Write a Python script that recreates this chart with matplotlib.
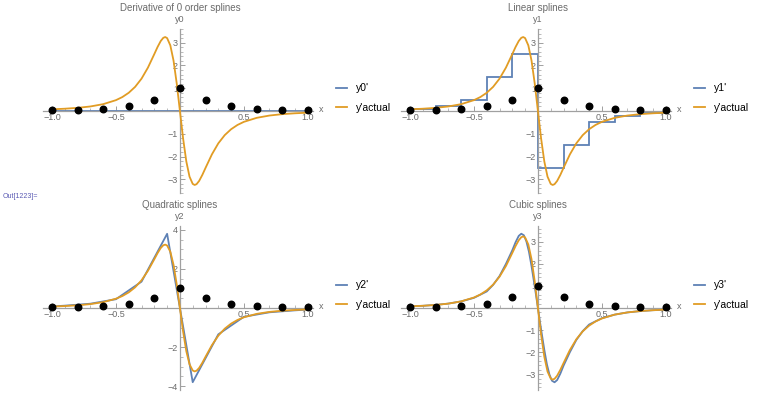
import matplotlib
matplotlib.use("Agg")
import matplotlib.pyplot as plt
from matplotlib.ticker import MultipleLocator, FixedLocator
from matplotlib.lines import Line2D
import numpy as np

plt.rcParams['font.family'] = ['Liberation Sans', 'DejaVu Sans']

# ---- data ----
node_x = [-1.0, -0.8, -0.6, -0.4, -0.2, 0.0, 0.2, 0.4, 0.6, 0.8, 1.0]
node_y = [0.0385, 0.0588, 0.1, 0.2, 0.5, 1.0, 0.5, 0.2, 0.1, 0.0588, 0.0385]

actual_x = [-1.0, -0.9, -0.8, -0.7, -0.6, -0.5, -0.45, -0.4, -0.35, -0.3, -0.25, -0.2,
            -0.175, -0.15, -0.13, -0.115, -0.1, -0.075, -0.05, -0.025, 0.0,
            0.025, 0.05, 0.075, 0.1, 0.115, 0.13, 0.15, 0.175, 0.2, 0.25, 0.3,
            0.35, 0.4, 0.45, 0.5, 0.6, 0.7, 0.8, 0.9, 1.0]
actual_y = [0.074, 0.100, 0.138, 0.199, 0.300, 0.476, 0.612, 0.800, 1.060, 1.420, 1.904, 2.500,
            2.807, 3.072, 3.212, 3.248, 3.200, 2.882, 2.215, 1.212, 0.0,
            -1.212, -2.215, -2.882, -3.200, -3.248, -3.212, -3.072, -2.807, -2.500, -1.904, -1.420,
            -1.060, -0.800, -0.612, -0.476, -0.300, -0.199, -0.138, -0.100, -0.074]

# 0 order splines: derivative zero everywhere
y0_x = [-1.0, 1.0]
y0_y = [0.0, 0.0]

# linear splines: piecewise-constant slopes between nodes
y1_edges = [-1.0, -0.8, -0.6, -0.4, -0.2, 0.0, 0.2, 0.4, 0.6, 0.8, 1.0]
y1_vals = [0.102, 0.206, 0.5, 1.5, 2.5, -2.5, -1.5, -0.5, -0.206, -0.102]

# quadratic splines: piecewise-linear derivative
y2_x = [-1.0, -0.9, -0.7, -0.5, -0.3, -0.1, 0.1, 0.3, 0.5, 0.7, 0.9, 1.0]
y2_y = [0.08, 0.12, 0.22, 0.45, 1.35, 3.8, -3.8, -1.35, -0.45, -0.22, -0.12, -0.08]

# cubic splines
y3_x = [-1.0, -0.9, -0.8, -0.7, -0.6, -0.5, -0.4, -0.35, -0.3, -0.25, -0.2, -0.175,
        -0.15, -0.13, -0.11, -0.09, -0.07, -0.05, -0.025, 0.0,
        0.025, 0.05, 0.07, 0.09, 0.11, 0.13, 0.15, 0.175, 0.2, 0.25, 0.3, 0.35,
        0.4, 0.5, 0.6, 0.7, 0.8, 0.9, 1.0]
y3_y = [0.08, 0.10, 0.14, 0.20, 0.30, 0.46, 0.75, 1.05, 1.45, 2.00, 2.62, 2.98,
        3.27, 3.37, 3.30, 3.02, 2.55, 1.90, 0.98, 0.0,
        -0.98, -1.90, -2.55, -3.02, -3.30, -3.37, -3.27, -2.98, -2.62, -2.00, -1.45, -1.05,
        -0.75, -0.46, -0.30, -0.20, -0.14, -0.10, -0.08]

titles = ["Derivative of 0 order splines", "Linear splines", "Quadratic splines", "Cubic splines"]
ylabels = ["y0", "y1", "y2", "y3"]
leg_labels = ["y0'", "y1'", "y2'", "y3'"]

BLUE = "#5E81B5"
ORANGE = "#E19C24"
AXC = "#a0a0a0"
TXT = "#6b6b6b"

W, H = 768, 396
fig = plt.figure(figsize=(W / 100, H / 100), dpi=100)

# axes boxes in pixels: (left, right, top, bottom), ylim, major, minor
boxes = [
    (43, 313, 29, 193, 3.6, 1, 0.2),
    (401, 671, 29, 193, 3.6, 1, 0.2),
    (43, 313, 226, 390, 4.2, 2, 0.5),
    (401, 671, 226, 390, 3.72, 1, 0.2),
]
legend_pos = [(336, 98), (694, 98), (336, 295), (694, 295)]

for i, (l, r, t, b, ylim, ymaj, ymin) in enumerate(boxes):
    ax = fig.add_axes([l / W, 1 - b / H, (r - l) / W, (b - t) / H])
    ax.set_xlim(-1.07, 1.04)
    ax.set_ylim(-ylim, ylim)
    ax.patch.set_alpha(0)
    for s in ['top', 'right']:
        ax.spines[s].set_visible(False)
    for s in ['left', 'bottom']:
        ax.spines[s].set_position(('data', 0))
        ax.spines[s].set_color(AXC)
        ax.spines[s].set_linewidth(0.9)
    ax.xaxis.set_major_locator(FixedLocator([-1.0, -0.5, 0.5, 1.0]))
    ax.xaxis.set_minor_locator(MultipleLocator(0.1))
    yt = [v for v in np.arange(-int(ylim / ymaj) * ymaj, ylim + 1e-9, ymaj) if abs(v) > 1e-9]
    ax.yaxis.set_major_locator(FixedLocator(yt))
    ax.yaxis.set_minor_locator(MultipleLocator(ymin))
    ax.set_xticklabels(["\u22121.0", "\u22120.5", "0.5", "1.0"])
    ax.set_yticklabels([("\u2212%d" % abs(v)) if v < 0 else "%d" % v for v in yt])
    ax.tick_params(which='both', direction='in', colors=AXC, labelcolor=TXT,
                   labelsize=6.5, pad=1.5)
    ax.tick_params(which='major', length=3.5, width=0.7)
    ax.tick_params(which='minor', length=2, width=0.5)

    if i == 0:
        ax.plot(y0_x, y0_y, color=BLUE, lw=1.3, zorder=2)
    elif i == 1:
        ax.stairs(y1_vals, y1_edges, color=BLUE, lw=1.3, baseline=None, zorder=2)
    elif i == 2:
        ax.plot(y2_x, y2_y, color=BLUE, lw=1.3, zorder=2)
    else:
        ax.plot(y3_x, y3_y, color=BLUE, lw=1.3, zorder=2)
    ax.plot(actual_x, actual_y, color=ORANGE, lw=1.3, zorder=3)
    ax.plot(node_x, node_y, 'o', color='black', ms=4.7, zorder=4, clip_on=False)

    # titles and axis labels
    ax.annotate(titles[i], xy=(0, 1), xycoords=('data', 'axes fraction'),
                xytext=(0, 15), textcoords='offset points', ha='center', va='center',
                fontsize=7, color=TXT)
    ax.annotate(ylabels[i], xy=(0, 1), xycoords=('data', 'axes fraction'),
                xytext=(0, 7), textcoords='offset points', ha='center', va='center',
                fontsize=6.5, color=TXT)
    ax.annotate("x", xy=(1, 0), xycoords=('axes fraction', 'data'),
                xytext=(4, 1), textcoords='offset points', ha='left', va='center',
                fontsize=6.5, color=TXT)

    lx, ly = legend_pos[i]
    hb = Line2D([], [], color=BLUE, lw=1.3)
    ho = Line2D([], [], color=ORANGE, lw=1.3)
    ax.legend([hb, ho], [leg_labels[i], "y'actual"], loc='center left',
              bbox_to_anchor=(lx / W, 1 - ly / H), bbox_transform=fig.transFigure,
              frameon=False, fontsize=7.5, handlelength=1.05, handletextpad=0.85,
              labelspacing=0.92, borderaxespad=0, borderpad=0)

fig.text(3 / W, 1 - 196 / H, "Out[1223]=", fontsize=5, color="#5a5ab4", ha='left', va='center')

fig.savefig("out.png", dpi=100)
